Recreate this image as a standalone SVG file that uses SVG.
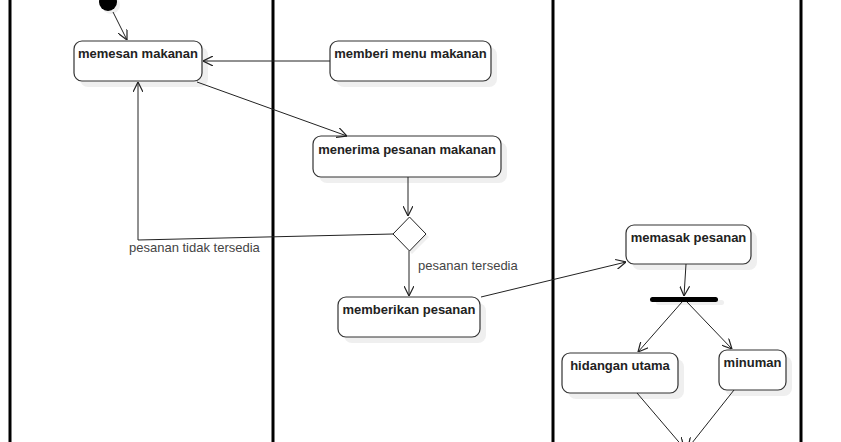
<svg xmlns="http://www.w3.org/2000/svg" width="841" height="442" viewBox="0 0 841 442">
<defs>
<marker id="open" viewBox="0 0 10 10" refX="10" refY="5" markerWidth="10" markerHeight="10" markerUnits="userSpaceOnUse" orient="auto">
<path d="M0,0 L10,5 L0,10" fill="none" stroke="#222" stroke-width="1.2"/>
</marker>
</defs>
<style>
.lane{stroke:#000;stroke-width:3}
.node{fill:#fff;stroke:#333;stroke-width:1.2}
.shadow{fill:#efefef;stroke:none}
.t{font-family:"Liberation Sans",Arial,sans-serif;font-size:13px;font-weight:bold;fill:#222;text-anchor:middle}
.lbl{font-family:"Liberation Sans",Arial,sans-serif;font-size:13px;fill:#444}
.edge{fill:none;stroke:#222;stroke-width:1;marker-end:url(#open)}
</style>
<rect width="841" height="442" fill="#fff"/>
<g id="lanes">
<line class="lane" x1="10" y1="0" x2="10" y2="442"/>
<line class="lane" x1="273" y1="0" x2="273" y2="442"/>
<line class="lane" x1="553" y1="0" x2="553" y2="442"/>
<line class="lane" x1="801" y1="0" x2="801" y2="442"/>
</g>
<g id="start">
<circle cx="111" cy="5" r="9" fill="#efefef"/>
<circle cx="108" cy="2" r="9" fill="#000"/>
</g>
<g id="n-memesan">
<rect class="shadow" x="80" y="47" width="128" height="40" rx="8"/>
<rect class="node" x="74" y="41" width="128" height="40" rx="8"/>
<text class="t" x="138" y="58">memesan makanan</text>
</g>
<g id="n-memberi">
<rect class="shadow" x="336" y="47" width="161" height="40" rx="8"/>
<rect class="node" x="330" y="41" width="161" height="40" rx="8"/>
<text class="t" x="410.5" y="58">memberi menu makanan</text>
</g>
<g id="n-menerima">
<rect class="shadow" x="319" y="142" width="188" height="41" rx="8"/>
<rect class="node" x="313" y="136" width="188" height="41" rx="8"/>
<text class="t" x="407" y="154">menerima pesanan makanan</text>
</g>
<g id="n-decision">
<polygon points="412,220 429,237 412,254 396,237" fill="#efefef"/>
<polygon points="409.5,217 426,234 409.5,251 393,234" fill="#fff" stroke="#222" stroke-width="1"/>
</g>
<g id="n-memberikan">
<rect class="shadow" x="344" y="303" width="142" height="40" rx="8"/>
<rect class="node" x="338" y="297" width="142" height="40" rx="8"/>
<text class="t" x="409" y="314">memberikan pesanan</text>
</g>
<g id="n-memasak">
<rect class="shadow" x="632" y="231" width="125" height="39" rx="8"/>
<rect class="node" x="626" y="225" width="125" height="39" rx="8"/>
<text class="t" x="688.5" y="242">memasak pesanan</text>
</g>
<g id="n-fork">
<rect x="656" y="300" width="68" height="5" rx="2.5" fill="#efefef"/>
<rect x="650" y="297" width="68" height="5" rx="2.5" fill="#000"/>
</g>
<g id="n-hidangan">
<rect class="shadow" x="568" y="359" width="116" height="40" rx="8"/>
<rect class="node" x="562" y="353" width="116" height="40" rx="8"/>
<text class="t" x="620" y="370">hidangan utama</text>
</g>
<g id="n-minuman">
<rect class="shadow" x="725" y="356" width="67" height="40" rx="8"/>
<rect class="node" x="719" y="350" width="67" height="40" rx="8"/>
<text class="t" x="752.5" y="367">minuman</text>
</g>
<g id="connectors">
<path class="edge" d="M113,12 L127,40"/>
<path class="edge" d="M330,61 L203,61"/>
<path class="edge" d="M197,82 L347,136"/>
<path class="edge" d="M408,177 L408,216"/>
<path class="edge" d="M393,234 L138,240 L138,82"/>
<path class="edge" d="M409,251 L409,296"/>
<path class="edge" d="M481,297 L626,262"/>
<path class="edge" d="M686,264 L684,296"/>
<path class="edge" d="M682,302 L638,352"/>
<path class="edge" d="M687,302 L732,349"/>
<path class="edge" d="M637,393 L684,448"/>
<path class="edge" d="M734,390 L688,448"/>
</g>
<g id="labels">
<text class="lbl" x="129" y="252">pesanan tidak tersedia</text>
<text class="lbl" x="418" y="270">pesanan tersedia</text>
</g>
</svg>
